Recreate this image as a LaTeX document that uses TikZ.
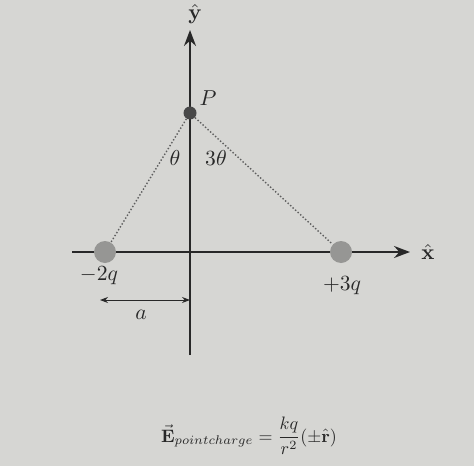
\documentclass[tikz,border=0pt]{standalone}
\usepackage{amsmath}
\usetikzlibrary{arrows.meta}

\definecolor{papel}{RGB}{214,214,211}
\definecolor{tinta}{RGB}{40,40,40}
\definecolor{carga}{RGB}{150,150,148}

\begin{document}
\begin{tikzpicture}[x=0.5pt, y=0.5pt, >=Stealth,
    eixo/.style={line width=1.1pt, draw=tinta},
    cargapt/.style={circle, fill=carga, minimum size=11pt, inner sep=0pt},
    pontilhado/.style={densely dotted, line width=0.7pt, tinta!75},
    rotulo/.style={text=tinta, scale=1.08}]

    % Fundo (papel fotografado)
    \fill[papel] (0,0) rectangle (474,466);
    \useasboundingbox (0,0) rectangle (474,466);

    % Coordenadas importantes
    \def\Ox{190}      % eixo y
    \def\Oy{214}      % eixo x
    \def\Py{353}      % altura do ponto P
    \def\qLx{105}     % carga -2q
    \def\qRx{341}     % carga +3q

    % Eixos
    \coordinate (xini) at (72,\Oy);
    \coordinate (xfim) at (410,\Oy);
    \coordinate (yini) at (\Ox,111);
    \coordinate (yfim) at (\Ox,436);
    \draw[eixo,->] (xini) -- (xfim);
    \draw[eixo,->] (yini) -- (yfim);
    \node[rotulo] (xlab) at (428,\Oy) {$\hat{\mathbf{x}}$};
    \node[rotulo] (ylab) at (\Ox+5,452) {$\hat{\mathbf{y}}$};

    % Cargas e ponto P
    \node[cargapt] (qL) at (\qLx,\Oy) {};
    \node[cargapt] (qR) at (\qRx,\Oy) {};
    \node[circle, fill=tinta!85, minimum size=6.5pt, inner sep=0pt] (P) at (\Ox,\Py) {};
    \node[rotulo, anchor=south west, inner sep=1pt, xshift=1pt] (Plab) at (P.north east) {$P$};

    % Linhas pontilhadas ate as cargas
    \draw[pontilhado] (P) -- (qL);
    \draw[pontilhado] (P) -- (qR);

    % Rotulos dos angulos
    \node[rotulo] (th1) at (175,308) {$\theta$};
    \node[rotulo] (th3) at (216,308) {$3\theta$};

    % Rotulos das cargas
    \node[rotulo] (qLlab) at (\qLx-6,\Oy-24) {$-2q$};
    \node[rotulo] (qRlab) at (\qRx+1,\Oy-34) {$+3q$};

    % Distancia a
    \coordinate (aini) at (100,166);
    \coordinate (afim) at (\Ox,166);
    \draw[tinta, line width=0.5pt, {Stealth[length=4pt]}-{Stealth[length=4pt]}] (aini) -- (afim);
    \node[rotulo] (alab) at (141,151) {$a$};

    % Formula do campo
    \node[text=tinta, scale=0.9] (formula) at (249,30)
        {$\displaystyle \vec{\mathbf{E}}_{pointcharge} = \frac{kq}{r^2}(\pm\hat{\mathbf{r}})$};

\end{tikzpicture}
\end{document}
